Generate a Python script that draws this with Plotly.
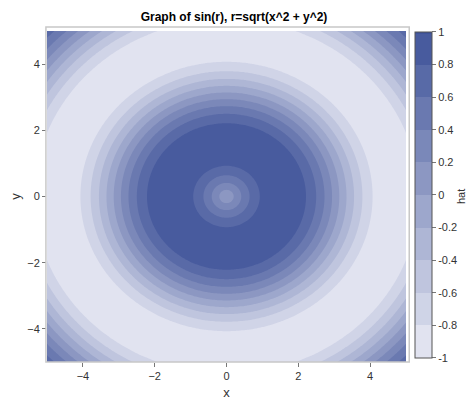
import numpy as np
import plotly.graph_objects as go

# grid of the plotted surface: hat = sin(r), r = sqrt(x^2 + y^2)
x_values = np.linspace(-5, 5, 201)
y_values = np.linspace(-5, 5, 201)
xx, yy = np.meshgrid(x_values, y_values)
hat = np.sin(np.sqrt(xx ** 2 + yy ** 2))

axis_ticks = [-4, -2, 0, 2, 4]
bar_ticks = [-1, -0.8, -0.6, -0.4, -0.2, 0, 0.2, 0.4, 0.6, 0.8, 1]

fig = go.Figure(go.Contour(
    x=x_values,
    y=y_values,
    z=hat,
    zmin=-1,
    zmax=1,
    contours=dict(start=-1, end=1, size=0.2, coloring="fill", showlines=False),
    line=dict(width=0),
    colorscale=[[0, "#E9EBF5"], [1, "#3F5399"]],
    colorbar=dict(
        x=1.025, xanchor="left", xpad=0,
        y=0.505, yanchor="middle", ypad=0,
        thickness=17,
        len=326, lenmode="pixels",
        outlinewidth=1, outlinecolor="#555555",
        tickvals=bar_ticks,
        ticktext=[str(t) for t in bar_ticks],
        ticks="outside", ticklen=4, tickcolor="#777777",
        tickfont=dict(size=11, color="#333333"),
    ),
))

fig.add_annotation(
    text="hat", textangle=-90, showarrow=False,
    xref="paper", yref="paper", x=1.152, y=0.5,
    xanchor="center", yanchor="middle",
    font=dict(size=11, color="#333333"),
)

fig.add_shape(
    type="rect", xref="paper", yref="paper",
    x0=-0.003, x1=1.009, y0=0, y1=1.012,
    line=dict(color="#C8C8C8", width=1.5),
)

# the page keeps an 8px body margin, so the figure is 8px smaller
fig.update_layout(
    width=466, height=399,
    margin=dict(l=39, r=68, t=23, b=45, autoexpand=False),
    paper_bgcolor="white",
    plot_bgcolor="white",
    font=dict(family="Liberation Sans, Arial, sans-serif", size=11, color="#333333"),
    title=dict(
        text="<b>Graph of sin(r), r=sqrt(x^2 + y^2)</b>",
        x=0.485, xanchor="center", y=0.977, yanchor="middle",
        font=dict(size=12, color="#000000"),
    ),
)
fig.update_xaxes(
    range=[-5, 5], tickvals=axis_ticks, ticks="outside", ticklen=4,
    tickcolor="#777777", showgrid=False, zeroline=False,
    showline=False, title=dict(text="x", standoff=6),
)
fig.update_yaxes(
    range=[-5, 5], tickvals=axis_ticks, ticks="outside", ticklen=4,
    tickcolor="#777777", showgrid=False, zeroline=False,
    showline=False, title=dict(text="y", standoff=9),
)

fig.write_html("out.html")
